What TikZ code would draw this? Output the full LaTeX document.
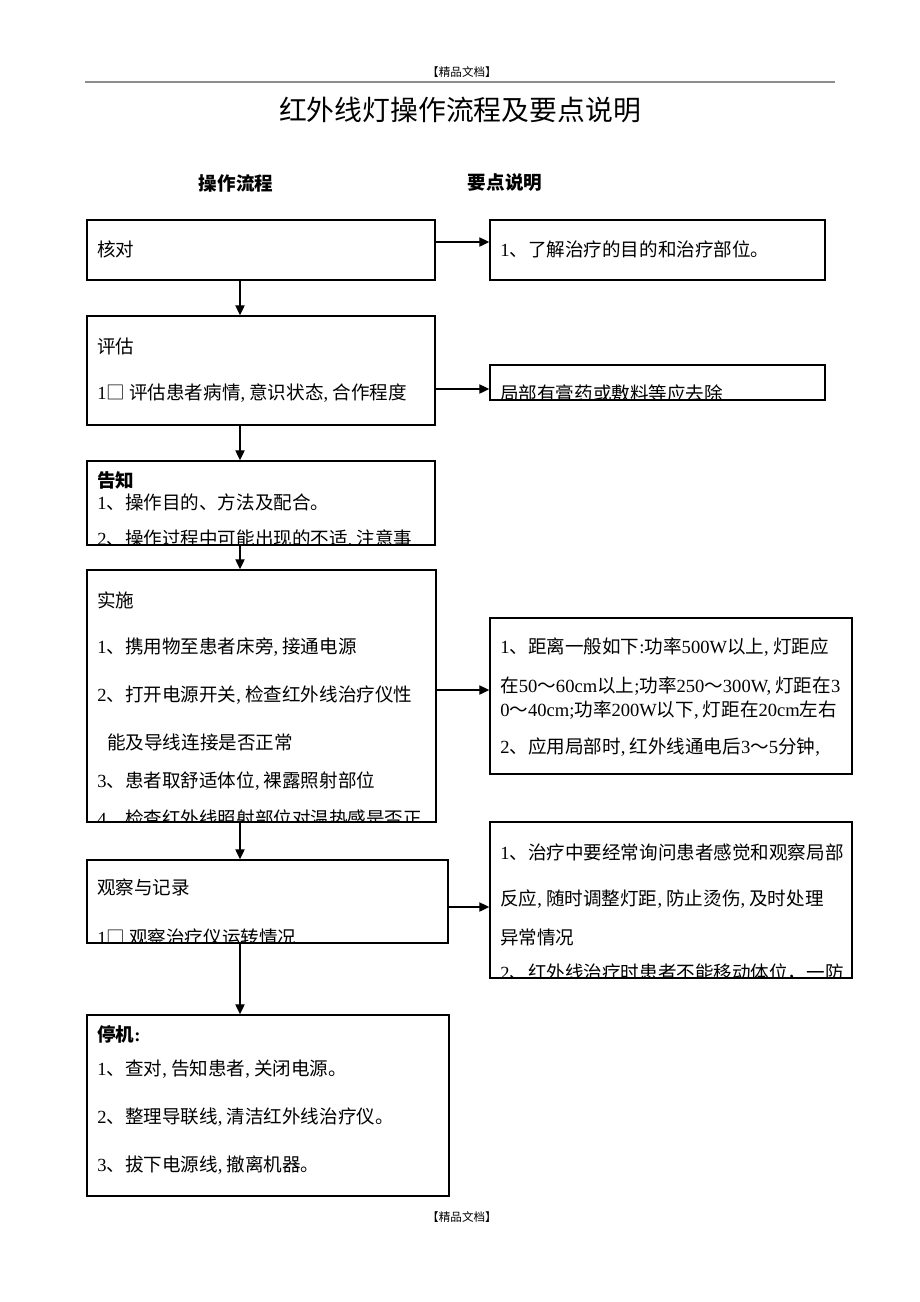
\documentclass[tikz,border=0pt]{standalone}
\usepackage{fontspec}
\setmainfont{Noto Sans CJK SC}
\newfontfamily\latfont{Liberation Serif}
\newcommand\ls[1]{{\latfont #1}}
\usetikzlibrary{arrows.meta,fit}
\begin{document}
\begin{tikzpicture}[x=0.6467pt,y=-0.6467pt,
  box/.style={draw, line width=0.9pt, inner sep=0pt},
  txt/.style={anchor=west, inner sep=0pt, font=\fontsize{12pt}{14pt}\selectfont},
  arr/.style={line width=0.9pt, -{Triangle[length=6.5pt,width=6pt]}},
  head/.style={font=\bfseries\fontsize{12pt}{14pt}\selectfont}]
\useasboundingbox (0,0) rectangle (920,1302);
% header and footer
\node[font=\fontsize{7.5pt}{9pt}\selectfont] (hdr) at (462,72) {【精品文档】};
\draw[black!45, line width=0.8pt] (85,82) -- (835,82);
\node[font=\fontsize{7.5pt}{9pt}\selectfont] (ftr) at (462,1217) {【精品文档】};
% title and column heads
\node[font=\fontsize{18pt}{20pt}\selectfont] (title) at (460,110) {红外线灯操作流程及要点说明};
\node[head] (h1) at (236,183) {操作流程};
\node[head] (h2) at (505,183) {要点说明};
% left boxes
\node[box, fit={(87,220)(435,280)}] (b1) {};
\node[box, fit={(87,316)(435,425)}] (b2) {};
\node[box, fit={(87,461)(435,545)}] (b3) {};
\node[box, fit={(87,570)(436,822)}] (b4) {};
\node[box, fit={(87,860)(448,943)}] (b5) {};
\node[box, fit={(87,1015)(449,1196)}] (b6) {};
% right boxes
\node[box, fit={(490,220)(825,280)}] (r1) {};
\node[box, fit={(490,365)(825,400)}] (r2) {};
\node[box, fit={(490,618)(852,774)}] (r4) {};
\node[box, fit={(490,822)(852,978)}] (r5) {};
% texts
\node[txt] (t11) at (97,249) {核对};
\node[txt] (tr1) at (500,249) {\ls{1}、了解治疗的目的和治疗部位。};
\node[txt] (t21) at (97,346) {评估};
\node[txt] (t22) at (97,393) {\ls{1}□ 评估患者病情\ls{,} 意识状态\ls{,} 合作程度};
\begin{scope}
\clip (r2.south west) rectangle (r2.north east);
\node[txt] (tr2) at (500,393) {局部有膏药或敷料等应去除};
\end{scope}
\begin{scope}
\clip (b3.south west) rectangle (b3.north east);
\node[txt] (t31) at (97,480) {\bfseries 告知};
\node[txt] (t32) at (97,502) {\ls{1}、操作目的、方法及配合。};
\node[txt] (t33) at (97,539) {\ls{2}、操作过程中可能出现的不适\ls{,} 注意事};
\end{scope}
\begin{scope}
\clip (b4.south west) rectangle (b4.north east);
\node[txt] (t41) at (97,600) {实施};
\node[txt] (t42) at (97,647) {\ls{1}、携用物至患者床旁\ls{,} 接通电源};
\node[txt] (t43) at (97,695) {\ls{2}、打开电源开关\ls{,} 检查红外线治疗仪性};
\node[txt] (t44) at (107,742) {能及导线连接是否正常};
\node[txt] (t45) at (97,781) {\ls{3}、患者取舒适体位\ls{,} 裸露照射部位};
\node[txt] (t46) at (97,818) {\ls{4}、检查红外线照射部位对温热感是否正};
\end{scope}
\begin{scope}
\clip (r4.south west) rectangle (r4.north east);
\node[txt] (tr41) at (500,647) {\ls{1}、距离一般如下\ls{:}功率\ls{500W}以上\ls{,} 灯距应};
\node[txt] (tr42) at (500,686) {在\ls{50}～\ls{60cm}以上\ls{;}功率\ls{250}～\ls{300W,} 灯距在\ls{3}};
\node[txt] (tr43) at (500,710) {\ls{0}～\ls{40cm;}功率\ls{200W}以下\ls{,} 灯距在\ls{20cm}左右};
\node[txt] (tr44) at (500,747) {\ls{2}、应用局部时\ls{,} 红外线通电后\ls{3}～\ls{5}分钟\ls{,}};
\end{scope}
\begin{scope}
\clip (b5.south west) rectangle (b5.north east);
\node[txt] (t51) at (97,887) {观察与记录};
\node[txt] (t52) at (97,937) {\ls{1}□ 观察治疗仪运转情况};
\end{scope}
\begin{scope}
\clip (r5.south west) rectangle (r5.north east);
\node[txt] (tr51) at (500,852) {\ls{1}、治疗中要经常询问患者感觉和观察局部};
\node[txt] (tr52) at (500,899) {反应\ls{,} 随时调整灯距\ls{,} 防止烫伤\ls{,} 及时处理};
\node[txt] (tr53) at (500,937) {异常情况};
\node[txt] (tr54) at (500,973) {\ls{2}、红外线治疗时患者不能移动体位，一防};
\end{scope}
\node[txt] (t61) at (97,1034) {\bfseries 停机\ls{:}};
\node[txt] (t62) at (97,1069) {\ls{1}、查对\ls{,} 告知患者\ls{,} 关闭电源。};
\node[txt] (t63) at (97,1117) {\ls{2}、整理导联线\ls{,} 清洁红外线治疗仪。};
\node[txt] (t64) at (97,1165) {\ls{3}、拔下电源线\ls{,} 撤离机器。};
% vertical arrows
\draw[arr] (b1.south -| 240,0) -- (b2.north -| 240,0);
\draw[arr] (b2.south -| 240,0) -- (b3.north -| 240,0);
\draw[arr] (b3.south -| 240,0) -- (b4.north -| 240,0);
\draw[arr] (b4.south -| 240,0) -- (b5.north -| 240,0);
\draw[arr] (b5.south -| 240,0) -- (b6.north -| 240,0);
% horizontal arrows
\draw[arr] (b1.east |- 0,242) -- (r1.west |- 0,242);
\draw[arr] (b2.east |- 0,389) -- (r2.west |- 0,389);
\draw[arr] (b4.east |- 0,690) -- (r4.west |- 0,690);
\draw[arr] (b5.east |- 0,907) -- (r5.west |- 0,907);
\end{tikzpicture}
\end{document}
